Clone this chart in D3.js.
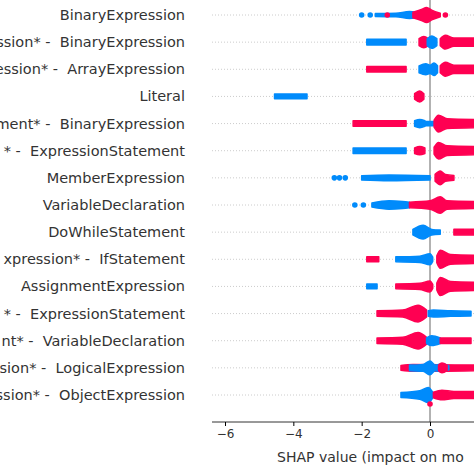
<!DOCTYPE html><html><head><script src="https://cdn.jsdelivr.net/npm/d3@7"></script>
<style>body{margin:0;background:#fff}svg{font-family:"DejaVu Sans",sans-serif}text{white-space:pre}</style></head><body>
<svg id="c" width="474" height="474"></svg>
<script>
const features = ["BinaryExpression","ession* -  BinaryExpression","ession* -  ArrayExpression","Literal","ment* -  BinaryExpression","* -  ExpressionStatement","MemberExpression","VariableDeclaration","DoWhileStatement","xpression* -  IfStatement","AssignmentExpression","* -  ExpressionStatement","nt* -  VariableDeclaration","sion* -  LogicalExpression","ssion* -  ObjectExpression"];
const xTicks = [-6,-4,-2,0];
// clusters per row: [color, [[shap, density], ...]]
const clusters = [
 [["b",[[-1.6,2],[-1.0,2.5],[-0.6,5],[-0.4,4]]],["r",[[-0.5,4],[-0.25,8],[-0.1,11],[0.05,7],[0.3,2.5]]]],
 [["b",[[-1.85,4],[-0.7,4]]],["r",[[-0.32,5],[-0.18,8],[-0.05,5]]],["b",[[-0.08,5],[0.05,9],[0.2,5]]],["r",[[0.3,5],[0.45,10],[0.7,6],[1.3,6]]]],
 [["r",[[-1.85,4],[-0.7,4]]],["b",[[-0.32,5],[-0.12,8],[0.0,6],[0.12,9],[0.22,5]]],["r",[[0.3,5],[0.45,10],[0.7,6],[1.3,6]]]],
 [["b",[[-4.55,3.5],[-3.6,3.5]]],["r",[[-0.45,4],[-0.3,8],[-0.18,4]]]],
 [["r",[[-2.25,4],[-0.7,4]]],["b",[[-0.45,4],[-0.3,6],[-0.15,4]]],["b",[[-0.2,3],[0.1,3]]],["r",[[0.12,5],[0.25,12],[0.5,7],[1.3,6]]]],
 [["b",[[-2.25,4],[-0.7,4]]],["r",[[-0.45,4],[-0.3,6],[-0.15,4]]],["r",[[0.12,5],[0.25,12],[0.5,7],[1.3,6]]]],
 [["b",[[-2.0,3],[-1.2,4],[0,3]]],["r",[[0.15,5],[0.3,10],[0.45,5],[0.7,3.5]]]],
 [["b",[[-1.7,3],[-1.2,6],[-0.8,5],[-0.6,4]]],["r",[[-0.6,4],[0,6],[0.3,12],[0.5,6],[1.3,5]]]],
 [["b",[[-0.5,4],[-0.2,10],[0.05,4],[0.3,3]]],["r",[[0.7,4],[1.3,4]]]],
 [["r",[[-1.85,3.5],[-1.5,3.5]]],["b",[[-1.0,3.5],[-0.3,4.5],[0,8],[0.08,3]]],["r",[[0.2,5],[0.3,13],[0.6,7],[1.3,6]]]],
 [["b",[[-1.85,3.5],[-1.55,3.5]]],["r",[[-1.0,3.5],[-0.3,4.5],[0,8],[0.08,3]]],["r",[[0.2,5],[0.3,13],[0.6,7],[1.3,6]]]],
 [["r",[[-1.55,4],[-0.8,5],[-0.35,12],[-0.1,5]]],["b",[[-0.05,4],[0.1,5],[0.6,4],[1.2,3.5]]]],
 [["r",[[-1.55,4],[-0.8,5],[-0.35,12],[-0.1,5]]],["b",[[-0.1,4],[0.05,7],[0.3,4]]],["r",[[0.3,4],[1.2,4]]]],
 [["r",[[-0.85,3.5],[-0.5,5],[1.3,4]]],["b",[[-0.6,4],[-0.2,5],[0,10],[0.15,4],[0.35,6],[0.55,3]]],["r",[[0.25,4],[0.35,7],[0.5,4]]]],
 [["b",[[-0.85,3.5],[-0.3,6],[-0.05,11],[0.08,4]]],["r",[[0.1,4],[0.35,7],[0.7,5],[1.3,5]]]]
];
const dots = [[0,-2.0,"b"],[0,-1.75,"b"],[0,-1.25,"r"],[0,0.45,"r"],[6,-2.8,"b"],[6,-2.65,"b"],[6,-2.48,"b"],[7,-2.2,"b"],[7,-1.95,"b"],[14,0,"r"]];
const col = {r:"#ff0052", b:"#008bfb"};
const svg = d3.select("#c");
const x = d3.scaleLinear().domain([-6,0]).range([225,430]);
const y = d3.scalePoint().domain(d3.range(features.length)).range([15,395]);
const h = d3.scaleLinear().domain([0,13]).range([0,9]);
svg.selectAll("line.g").data(features).join("line").attr("x1",212).attr("x2",474)
 .attr("y1",(d,i)=>y(i)).attr("y2",(d,i)=>y(i)).attr("stroke","#ccc").attr("stroke-width",1).attr("stroke-dasharray","1,2");
svg.append("line").attr("x1",x(0)).attr("x2",x(0)).attr("y1",0).attr("y2",422).attr("stroke","#999").attr("stroke-width",1.5);
const area = d3.area().curve(d3.curveMonotoneX);
clusters.forEach((row,i)=>row.forEach(([c,pts])=>{
  const a = area.x(p=>x(p[0])).y0(p=>y(i)-h(p[1])).y1(p=>y(i)+h(p[1]));
  svg.append("path").attr("d",a(pts)).attr("fill",col[c]).attr("stroke",col[c]).attr("stroke-width",1.5).attr("stroke-linejoin","round");
}));
svg.selectAll("circle").data(dots).join("circle").attr("cx",d=>x(d[1])).attr("cy",d=>y(d[0])+(d[0]==14?9:0)).attr("r",2.8).attr("fill",d=>col[d[2]]);
svg.selectAll("text.f").data(features).join("text").attr("x",185).attr("y",(d,i)=>y(i)+5)
 .attr("text-anchor","end").attr("font-size",14.5).attr("fill","#333").text(d=>d);
const ax = svg.append("g").attr("transform","translate(0,422)").call(d3.axisBottom(x).tickValues(xTicks).tickSize(4).tickFormat(d=>d<0?"\u2212"+(-d):d));
ax.select(".domain").attr("d","M212,0H474").attr("stroke","#333");
ax.selectAll("text").attr("font-size",12).attr("fill","#333").attr("font-family","DejaVu Sans");
svg.append("text").attr("x",277).attr("y",462).attr("font-size",14).attr("fill","#333").text("SHAP value (impact on mo");
</script></body></html>
